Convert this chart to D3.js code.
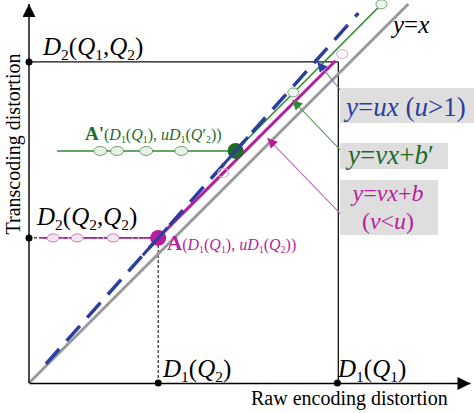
<!DOCTYPE html>
<html>
<head>
<meta charset="utf-8">
<script src="https://cdn.jsdelivr.net/npm/d3@7"></script>
<style>
  html, body { margin: 0; padding: 0; background: #fff; }
  svg { display: block; }
  text { font-family: "Liberation Serif", "Times New Roman", serif; }
</style>
</head>
<body>
<svg id="chart" width="474" height="413"></svg>
<script>
// ---- data (conceptual distortion units) ----
const axisMax = { x: 14.3, y: 12.3 };
const D1Q2 = 4.19;          // raw encoding distortion at Q2
const D1Q1 = 10.0;          // raw encoding distortion at Q1
const D2Q1Q2 = 10.42;       // transcoding distortion D2(Q1,Q2)
const u = 1.124;            // slope of y = ux
const v = 1.0;              // slope of y = vx + b
const b = 0.52;             // intercept of magenta line
const bPrime = 0.86;        // intercept of green line
const A = [D1Q2, u * D1Q2];
const AprimeX = 6.7;
const Aprime = [AprimeX, u * AprimeX];
const diagEnd = 12.3;       // end of y = x
const blueEndX = 10.68;     // end of y = ux
const magentaEndX = 9.94;
const greenEndX = 11.43;
const magentaHorizCircles = [0.78, 1.56, 2.73];
const greenHorizStart = 0.91;
const greenHorizCircles = [2.31, 2.86, 3.80, 4.94];
const greenDiagCircles = [8.57, 11.43];
const magentaDiagCircles = [6.2, 10.06];
const arrows = [
  { color: "#2b3e9e", line: "#6f7fb0", from: [10.1, 9.5], to: [9.35, 10.42] },
  { color: "#2f8a34", line: "#5f9a62", from: [10.2, 7.45], to: [8.54, 9.19] },
  { color: "#b81e9c", line: "#c36ab6", from: [10.26, 5.33], to: [7.73, 7.95] }
];

const magenta = "#b81e9c";
const green = "#2f8a34";
const darkGreen = "#1e6b2a";
const blue = "#2b3e9e";

const svg = d3.select("#chart");
const x = d3.scaleLinear().domain([0, axisMax.x]).range([29, 470]);
const y = d3.scaleLinear().domain([0, axisMax.y]).range([383, 4]);

const defs = svg.append("defs");
function marker(id, color, w, h) {
  defs.append("marker").attr("id", id)
    .attr("viewBox", "0 0 10 10").attr("refX", 10).attr("refY", 5)
    .attr("markerWidth", w).attr("markerHeight", h)
    .attr("markerUnits", "userSpaceOnUse")
    .attr("orient", "auto")
    .append("path").attr("d", "M0,0 L10,5 L0,10 Z").attr("fill", color);
}
marker("axArrow", "#000", 17, 13);
arrows.forEach((a, i) => marker("ann" + i, a.color, 14, 10));

function seg(p0, p1) {
  return svg.append("line")
    .attr("x1", x(p0[0])).attr("y1", y(p0[1]))
    .attr("x2", x(p1[0])).attr("y2", y(p1[1]));
}

// box lines
seg([0, D2Q1Q2], [D1Q1 + 0.03, D2Q1Q2]).attr("stroke", "#111").attr("stroke-width", 1.3);
seg([D1Q1 + 0.03, D2Q1Q2], [D1Q1 + 0.03, 0]).attr("stroke", "#111").attr("stroke-width", 1.3);
// dashed guides to A
seg([D1Q2, 0], A).attr("stroke", "#222").attr("stroke-width", 1.2).attr("stroke-dasharray", "3,2");
seg([0, A[1]], A).attr("stroke", "#222").attr("stroke-width", 1.2).attr("stroke-dasharray", "3,2");

// y = x
seg([0, 0], [diagEnd, diagEnd]).attr("stroke", "#9a9a9a").attr("stroke-width", 3);

// magenta horizontal and line y = vx + b
seg([0.4, A[1]], A).attr("stroke", magenta).attr("stroke-width", 1.6).attr("stroke-dasharray", "6,1");
seg(A, [magentaEndX, v * magentaEndX + b]).attr("stroke", magenta).attr("stroke-width", 3);

// green horizontal and line y = vx + b'
seg([greenHorizStart, Aprime[1]], Aprime).attr("stroke", green).attr("stroke-width", 1.6);
seg(Aprime, [greenEndX, v * greenEndX + bPrime]).attr("stroke", green).attr("stroke-width", 1.6);

// y = ux dashed
seg([0.55, 0.55 * u], [blueEndX, u * blueEndX])
  .attr("stroke", blue).attr("stroke-width", 3.5).attr("stroke-dasharray", "20,11");

// circles on horizontals
svg.selectAll(".mc").data(magentaHorizCircles).join("ellipse")
  .attr("cx", d => x(d)).attr("cy", y(A[1])).attr("rx", 6).attr("ry", 4)
  .attr("fill", "#f4e6f1").attr("stroke", "#c77bbb").attr("stroke-width", 1);
svg.selectAll(".gc").data(greenHorizCircles).join("ellipse")
  .attr("cx", d => x(d)).attr("cy", y(Aprime[1])).attr("rx", 6.5).attr("ry", 4.5)
  .attr("fill", "#e8f0e8").attr("stroke", "#6da06d").attr("stroke-width", 1);
svg.selectAll(".gdc").data(greenDiagCircles).join("ellipse")
  .attr("cx", d => x(d)).attr("cy", d => y(v * d + bPrime)).attr("rx", 5.5).attr("ry", 4.5)
  .attr("fill", "#eef5ee").attr("stroke", "#6da06d").attr("stroke-width", 1);
svg.selectAll(".mdc").data(magentaDiagCircles).join("ellipse")
  .attr("cx", d => x(d) + 3).attr("cy", d => y(v * d + b) - 3).attr("rx", 5.5).attr("ry", 4.5)
  .attr("fill", "none").attr("stroke", "#e2a6d6").attr("stroke-width", 1.1);

// points A and A'
svg.append("circle").attr("cx", x(A[0])).attr("cy", y(A[1])).attr("r", 8).attr("fill", magenta);
svg.append("circle").attr("cx", x(Aprime[0])).attr("cy", y(Aprime[1])).attr("r", 8).attr("fill", darkGreen);
// blue dash over points
seg([A[0] - 0.5, u * (A[0] - 0.5)], [A[0] + 0.3, u * (A[0] + 0.3)]).attr("stroke", blue).attr("stroke-width", 3);
seg([Aprime[0] - 0.4, u * (Aprime[0] - 0.4)], [Aprime[0] + 0.4, u * (Aprime[0] + 0.4)]).attr("stroke", blue).attr("stroke-width", 3);

// axes (D3 axis generators with no ticks, arrowheads)
svg.append("g").attr("transform", `translate(0,${y(0)})`)
  .call(d3.axisBottom(x).tickValues([]).tickSizeOuter(0))
  .call(g => g.select(".domain").attr("stroke", "#000").attr("stroke-width", 1.4)
    .attr("marker-end", "url(#axArrow)"));
svg.append("g").attr("transform", `translate(${x(0)},0)`)
  .call(d3.axisLeft(y).tickValues([]).tickSizeOuter(0))
  .call(g => g.select(".domain").attr("stroke", "#000").attr("stroke-width", 1.4)
    .attr("d", `M0,${y(0)}V${y(axisMax.y)}`).attr("marker-end", "url(#axArrow)"));

// axis points
[[D1Q2, 0], [D1Q1, 0], [0, D2Q1Q2], [0, A[1]]].forEach(p =>
  svg.append("circle").attr("cx", x(p[0])).attr("cy", y(p[1])).attr("r", 3.5).attr("fill", "#000"));

// annotation arrows
arrows.forEach((a, i) => {
  seg(a.from, a.to).attr("stroke", a.line).attr("stroke-width", 1.1)
    .attr("marker-end", `url(#ann${i})`);
});

// label boxes
const boxes = [
  { x0: 340, y0: 88, w: 134, h: 35 },
  { x0: 340, y0: 143, w: 108, h: 26 },
  { x0: 340, y0: 180, w: 98, h: 55 }
];
boxes.forEach(bx => svg.append("rect").attr("x", bx.x0).attr("y", bx.y0)
  .attr("width", bx.w).attr("height", bx.h).attr("fill", "#dedede"));

// rich text helper
function rich(px, py, parts, opts) {
  const t = svg.append("text").attr("x", px).attr("y", py)
    .attr("font-size", opts.size).attr("fill", opts.fill || "#000");
  if (opts.anchor) t.attr("text-anchor", opts.anchor);
  parts.forEach(p => {
    const [s, o = {}] = p;
    const ts = t.append("tspan").text(s);
    if (o.i) ts.attr("font-style", "italic");
    if (o.b) ts.attr("font-weight", "bold");
    if (o.size) ts.attr("font-size", o.size);
    if (o.sub) ts.attr("font-size", opts.size * 0.62).attr("dy", opts.size * 0.2);
    if (o.up) ts.attr("dy", -opts.size * 0.2);
  });
  return t;
}

const D = (n, q1, q2) => [["D", { i: true }], [n, { sub: true }], ["(", { up: true }], ["Q", { i: true }], [q1, { sub: true }], [",", { up: true }], ["Q", { i: true }], [q2, { sub: true }], [")", { up: true }]];
const D1 = (q) => [["D", { i: true }], ["1", { sub: true }], ["(", { up: true }], ["Q", { i: true }], [q, { sub: true }], [")", { up: true }]];

rich(43, 55, D("2", "1", "2"), { size: 25 });
rich(37, 225, D("2", "2", "2"), { size: 25 });
rich(163, 377, D1("2"), { size: 25 });
rich(338, 377, D1("1"), { size: 25 });

svg.append("text").attr("x", 251).attr("y", 405).attr("font-size", 20).text("Raw encoding distortion");
svg.append("text").attr("transform", "translate(20,144) rotate(-90)").attr("text-anchor", "middle")
  .attr("font-size", 20).text("Transcoding distortion");

rich(393, 33, [["y", { i: true }], ["="], ["x", { i: true }]], { size: 25 });

// legend labels
rich(346, 116, [["y", { i: true }], ["="], ["ux", { i: true }], [" ("], ["u", { i: true }], [">1)"]], { size: 27, fill: blue });
rich(348, 164, [["y", { i: true }], ["="], ["vx", { i: true }], ["+"], ["b", { i: true }], ["′"]], { size: 27, fill: darkGreen });
rich(388, 201, [["y", { i: true }], ["="], ["vx", { i: true }], ["+"], ["b", { i: true }]], { size: 24, fill: magenta, anchor: "middle" });
rich(388, 229, [["("], ["v", { i: true }], ["<"], ["u", { i: true }], [")"]], { size: 24, fill: magenta, anchor: "middle" });

// point labels
rich(85, 140, [["A'", { b: true, size: 19 }]].concat(
  [["(", {}], ["D", { i: true }], ["1", { sub: true }], ["(", { up: true }], ["Q", { i: true }], ["1", { sub: true }], ["), ", { up: true }], ["uD", { i: true }], ["1", { sub: true }], ["(", { up: true }], ["Q", { i: true }], ["′", {}], ["2", { sub: true }], ["))", { up: true }]]
), { size: 16, fill: darkGreen });
rich(167, 250, [["A", { b: true, size: 21 }]].concat(
  [["(", {}], ["D", { i: true }], ["1", { sub: true }], ["(", { up: true }], ["Q", { i: true }], ["1", { sub: true }], ["), ", { up: true }], ["uD", { i: true }], ["1", { sub: true }], ["(", { up: true }], ["Q", { i: true }], ["2", { sub: true }], ["))", { up: true }]]
), { size: 16, fill: magenta });
</script>
</body>
</html>
